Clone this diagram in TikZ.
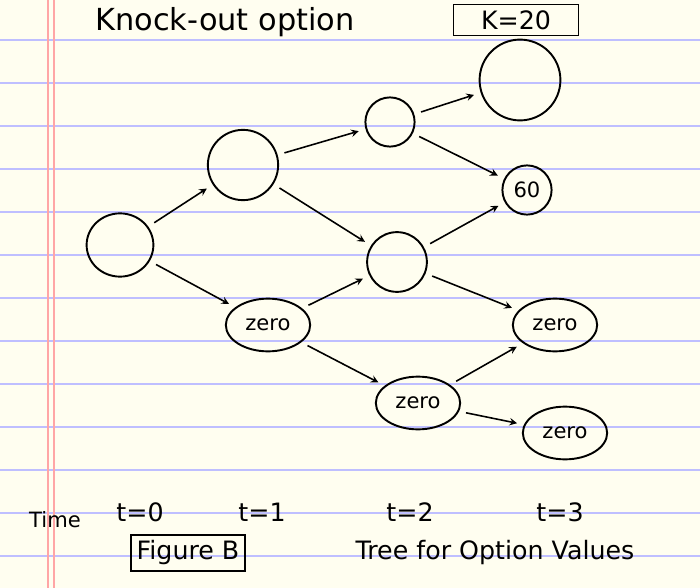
\documentclass[tikz,border=0pt]{standalone}
\usepackage{fontspec}
\setmainfont{DejaVu Sans}
\usetikzlibrary{shapes.geometric}
\begin{document}
\begin{tikzpicture}[x=0.02cm,y=-0.02cm,
  st/.style={draw, line width=1.1pt, ellipse, inner sep=1pt, font=\large},
  zr/.style={st, minimum width=48pt, minimum height=30pt},
  ar/.style={->, line width=0.9pt, >=stealth, shorten >=4pt, shorten <=4pt},
  lbl/.style={font=\Large}]
\fill[white!94!yellow] (0,0) rectangle (700,588);
\useasboundingbox (0,0) rectangle (700,588);
\foreach \y in {40,83,126,169,212,255,298,341,384,427,470,513,556}
  \draw[blue!25, line width=0.6pt] (0,\y) -- (700,\y);
\draw[red!35, line width=0.8pt] (48,0) -- (48,588);
\draw[red!35, line width=0.8pt] (54,0) -- (54,588);
\node[st, minimum width=38pt, minimum height=36pt] (n0) at (120,245) {};
\node[st, minimum width=40pt, minimum height=40pt] (a1) at (243,165) {};
\node[zr] (b1) at (268,325) {zero};
\node[st, minimum width=28pt, minimum height=28pt] (a2) at (390,122) {};
\node[st, minimum width=34pt, minimum height=34pt] (b2) at (397,262) {};
\node[zr] (c2) at (418,403) {zero};
\node[st, minimum width=46pt, minimum height=46pt] (a3) at (520,80) {};
\node[st, minimum width=28pt, minimum height=28pt] (b3) at (527,190) {60};
\node[zr] (c3) at (555,325) {zero};
\node[zr] (d3) at (565,433) {zero};
\draw[ar] (n0) -- (a1); \draw[ar] (n0) -- (b1);
\draw[ar] (a1) -- (a2); \draw[ar] (a1) -- (b2);
\draw[ar] (b1) -- (b2); \draw[ar] (b1) -- (c2);
\draw[ar] (a2) -- (a3); \draw[ar] (a2) -- (b3);
\draw[ar] (b2) -- (b3); \draw[ar] (b2) -- (c3);
\draw[ar] (c2) -- (c3); \draw[ar] (c2) -- (d3);
\node[font=\LARGE] (title) at (225,22) {Knock-out option};
\node[lbl, draw, line width=1pt, minimum width=2.5cm] (k) at (516,20) {K=20};
\node[font=\large] (time) at (55,520) {Time};
\node[lbl] (t0) at (140,512) {t=0};
\node[lbl] (t1) at (262,512) {t=1};
\node[lbl] (t2) at (410,512) {t=2};
\node[lbl] (t3) at (560,512) {t=3};
\node[lbl, draw, line width=1pt] (fig) at (188,553) {Figure B};
\node[lbl] (cap) at (495,553) {Tree for Option Values};
\end{tikzpicture}
\end{document}
